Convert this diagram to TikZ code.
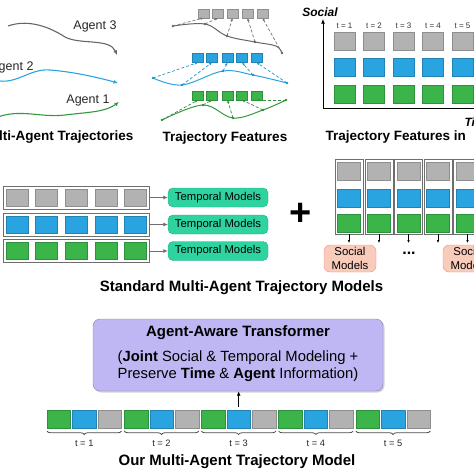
\documentclass[tikz,border=0pt]{standalone}
\usepackage{fontspec}
\setmainfont{Liberation Sans}
\usetikzlibrary{arrows.meta,positioning,decorations.pathreplacing,shadows}

\definecolor{cgray}{HTML}{B2B2B2}
\definecolor{cblue}{HTML}{2AA4E0}
\definecolor{cgreen}{HTML}{3BB44A}
\definecolor{cmint}{HTML}{2FD3A0}
\definecolor{cpink}{HTML}{F9CBBB}
\definecolor{clav}{HTML}{BFB7F3}
\definecolor{cframe}{HTML}{6E6E6E}

\tikzset{
  cell/.style={draw=#1!80!black, fill=#1, inner sep=0pt, outer sep=0pt},
  tiny cell/.style={minimum width=11pt, minimum height=9pt},
  grid cell/.style={minimum width=21pt, minimum height=18pt},
  row cell/.style={minimum width=22pt, minimum height=17pt},
  col cell/.style={minimum width=23pt, minimum height=18pt},
  seq cell/.style={minimum width=23.5pt, minimum height=18pt},
  frame/.style={draw=cframe, fill=white, line width=0.9pt, inner sep=0pt, outer sep=0pt},
  title/.style={font=\bfseries\fontsize{13.5}{16}\selectfont},
  bigtitle/.style={font=\bfseries\fontsize{15}{18}\selectfont},
  agent/.style={font=\fontsize{12.5}{15}\selectfont, text=black!85},
  traj/.style={line width=1.1pt, draw=#1, ->},
  feat/.style={line width=1pt, draw=#1},
  link/.style={densely dashed, line width=0.7pt, draw=#1, -{Latex[length=3pt,width=2.6pt]}},
  tmodel/.style={draw=cmint!80!black, fill=cmint, rounded corners=5pt, minimum width=100pt,
    minimum height=19pt, inner sep=0pt, font=\fontsize{11.3}{13}\selectfont},
  smodel/.style={draw=cpink!70!red, fill=cpink, rounded corners=6pt, minimum width=52pt,
    minimum height=27pt, inner sep=0pt, align=center, font=\fontsize{11.4}{14}\selectfont},
  tlab/.style={font=\fontsize{8}{9}\selectfont, text=black!80},
  slab/.style={font=\fontsize{9.3}{11}\selectfont, text=black!85},
  axislab/.style={font=\bfseries\itshape\fontsize{12}{14}\selectfont},
}

\begin{document}
\begin{tikzpicture}[x=1pt, y=-1pt, >={Latex[length=4.5pt,width=4pt]}]
	\useasboundingbox (0,0) rectangle (474,474);

	% multi-agent trajectories
	\draw[traj=black!60] (8,26) .. controls (25,20) and (45,24) .. (65,37) .. controls (80,45) and (110,38) .. (117,55);
	\draw[traj=cblue] (-5,80) .. controls (15,86) and (30,68) .. (50,70) .. controls (75,72) and (100,78) .. (118,83);
	\draw[traj=cgreen!85!black] (-5,118) .. controls (20,108) and (40,118) .. (65,115) .. controls (90,112) and (105,112) .. (119,102);
	\node[agent] (ag3) at (95,26) {Agent 3};
	\node[agent, anchor=east] (ag2) at (37,67) {Agent 2};
	\node[agent] (ag1) at (88,100) {Agent 1};
	\node[title, anchor=east] (cap1) at (137,137) {Multi-Agent Trajectories};

	% trajectory features
	\foreach \x [count=\i] in {203.5,218,232.5,247.5,262.5}
		\node[cell=cgray, tiny cell] (fg\i) at (\x,13.5) {};
	\foreach \x [count=\i] in {198,212,227.5,242,256.5}{
		\node[cell=cblue, tiny cell] (fb\i) at (\x,58) {};
		\node[cell=cgreen, tiny cell] (fn\i) at (\x,95.5) {};
	}
	\foreach \x/\y [count=\i] in {173/26,205/24,227/36,255/42,282/53}
		\coordinate (pg\i) at (\x,\y);
	\foreach \x/\y [count=\i] in {153/78,182/85,223/71,253/75,287/83}
		\coordinate (pb\i) at (\x,\y);
	\foreach \x/\y [count=\i] in {162/120,203/105,233/118,263/110,286/100}
		\coordinate (pn\i) at (\x,\y);
	\draw[feat=black!60] plot[smooth, tension=0.6] coordinates {(pg1) (pg2) (pg3) (pg4) (276,46) (pg5)};
	\draw[feat=cblue] plot[smooth, tension=0.6] coordinates {(pb1) (pb2) (pb3) (pb4) (pb5)};
	\draw[feat=cgreen!85!black] plot[smooth, tension=0.6] coordinates {(pn1) (pn2) (pn3) (pn4) (pn5)};
	\foreach \i in {1,...,5}{
		\fill[black!60] (pg\i) circle (1.4pt);
		\fill[cblue!85!black] (pb\i) circle (1.4pt);
		\fill[cgreen!80!black] (pn\i) circle (1.4pt);
		\draw[link=black!55] (pg\i) -- (fg\i.south);
		\draw[link=cblue!90!black] (pb\i) -- (fb\i.south);
		\draw[link=cgreen!80!black] (pn\i) -- (fn\i.south);
	}
	\node[title] (cap2) at (225,138) {Trajectory Features};

	% features in time and social axes
	\coordinate (orig) at (323,108);
	\draw[->, line width=0.9pt] (orig) -- (323,19);
	\draw[line width=0.9pt] (orig) -- (480,108);
	\node[axislab] (soc) at (320,12) {Social};
	\node[axislab, anchor=west] (tim) at (461,122) {Time};
	\foreach \x [count=\i] in {344.5,374,403.5,433,462.5}{
		\node[tlab] (gt\i) at (\x,26) {t = \i};
		\node[cell=cgray, grid cell] (gg\i) at (\x,41) {};
		\node[cell=cblue, grid cell] (gb\i) at (\x,67) {};
		\node[cell=cgreen, grid cell] (gn\i) at (\x,94) {};
	}
	\node[title, anchor=west] (cap3) at (322,137) {Trajectory Features in};

	% standard models: temporal
	\foreach \c/\y [count=\r] in {cgray/197.5,cblue/224.5,cgreen/251}{
		\node[frame, minimum width=146pt, minimum height=23pt] (row\r) at (76,\y) {};
		\foreach \x in {17,46,76,106,135.5}
			\node[cell=\c, row cell] at (\x,\y) {};
		\node[tmodel] (tm\r) at (218,\y) {Temporal Models};
		\draw[->, cframe, line width=0.8pt] (row\r) -- (tm\r);
	}
	\node[font=\bfseries\fontsize{38}{38}\selectfont] (plus) at (301,214.5) {+};

	% standard models: social
	\foreach \x [count=\i] in {349,379,408.5,438,467.5}{
		\node[frame, minimum width=28pt, minimum height=75pt] (col\i) at (\x,196.5) {};
		\node[cell=cgray, col cell] (cg\i) at (\x,171) {};
		\node[cell=cblue, col cell] (cb\i) at (\x,198) {};
		\node[cell=cgreen, col cell] (cn\i) at (\x,223.5) {};
		\coordinate (ce\i) at (\x,243);
		\draw[->, line width=0.7pt, >={Latex[length=3pt,width=2.6pt]}] (col\i.south) -- (ce\i);
	}
	\node[smodel] (sm1) at (350,258.5) {Social\\Models};
	\node[smodel] (sm2) at (469,258.5) {Social\\Models};
	\node[font=\bfseries\fontsize{16}{16}\selectfont] (dots) at (409,253) {...};
	\node[bigtitle] (cap4) at (241.5,288) {Standard Multi-Agent Trajectory Models};

	% our model
	\node[draw=clav!70!black, fill=clav, rounded corners=7pt, minimum width=290pt, minimum height=72pt,
		drop shadow={opacity=0.35, shadow xshift=1.5pt, shadow yshift=-1.5pt}] (aat) at (238,355) {};
	\node[bigtitle] (aatt) at (238,333) {Agent-Aware Transformer};
	\node[align=center, font=\fontsize{14.8}{17}\selectfont] (aatx) at (238,366) {(\textbf{Joint} Social \& Temporal Modeling +\\Preserve \textbf{Time} \& \textbf{Agent} Information)};

	\foreach \s [count=\k] in {47,124.2,201.4,278.6,355.8}{
		\node[cell=cgreen, seq cell, anchor=west] (sqg\k) at (\s,419) {};
		\node[cell=cblue, seq cell, right=2pt of sqg\k] (sqb\k) {};
		\node[cell=cgray, seq cell, right=2pt of sqb\k] (sqr\k) {};
		\draw[decorate, decoration={brace, mirror, amplitude=3.5pt}, black!70, line width=0.8pt]
			([yshift=-3pt]sqg\k.south west) -- ([yshift=-3pt]sqr\k.south east);
		\node[slab] (st\k) at (\s+37.25,443) {t = \k};
	}
	\draw[->, line width=0.9pt] ([yshift=3pt]sqb3.north) -- (sqb3.north |- aat.south) ;
	\node[bigtitle] (cap5) at (237,462) {Our Multi-Agent Trajectory Model};
\end{tikzpicture}
\end{document}
